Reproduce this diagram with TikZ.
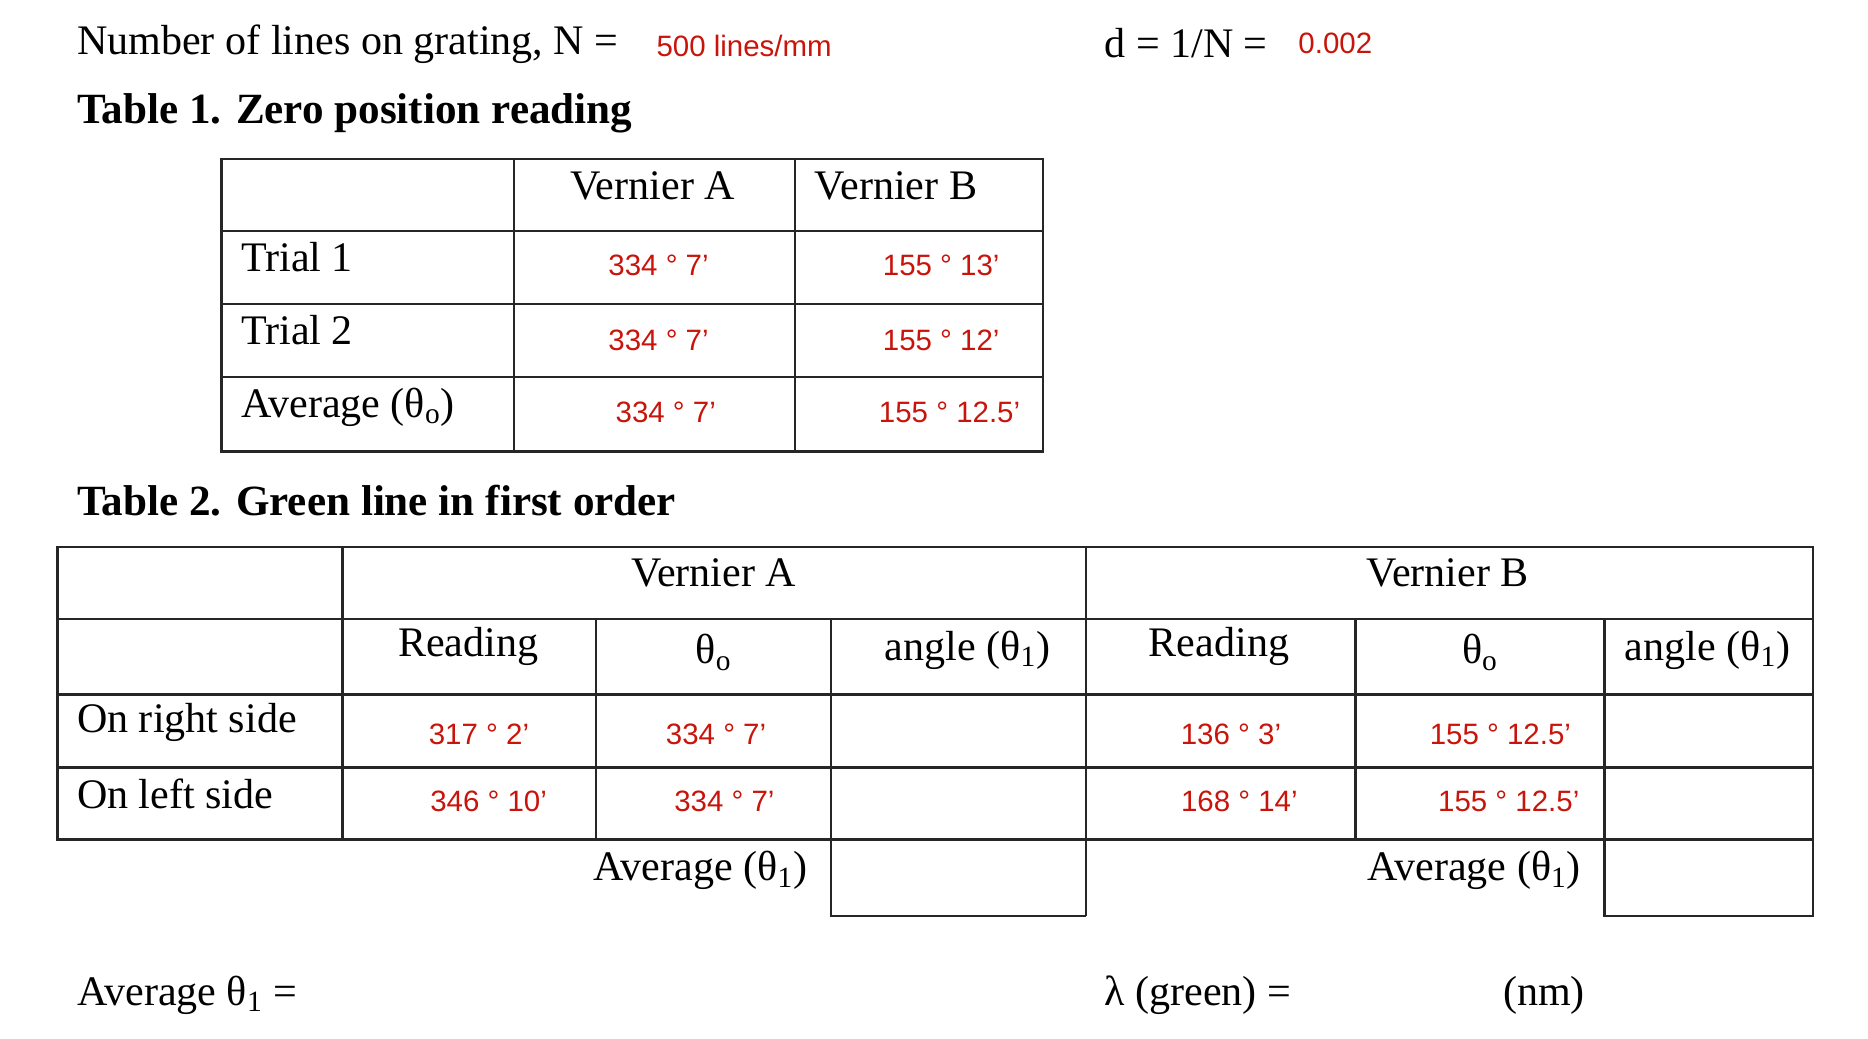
\documentclass[tikz,border=0pt]{standalone}
\usepackage{fontspec}
\setmainfont{Liberation Serif}
\newfontfamily\redsans{Liberation Sans}
\definecolor{rd}{RGB}{200,20,10}
\begin{document}
\begin{tikzpicture}[x=0.02cm,y=-0.02cm,
  txt/.style={inner sep=0pt,font=\fontsize{20}{22}\selectfont},
  lt/.style={txt,anchor=west},
  val/.style={inner sep=0pt,text=rd,font=\redsans\fontsize{14}{16}\selectfont},
  lv/.style={val,anchor=west},
  grid/.style={line width=1.1pt,black!85}]
\useasboundingbox (0,0) rectangle (1560,867);
\node[lt] (n1) at (64,37) {Number of lines on grating, N =};
\node[lv] (v1) at (548,38) {500 lines/mm};
\node[lt] (n2) at (922,36) {d = 1/N =};
\node[lv] (v2) at (1084,36) {0.002};
\node[lt,font=\bfseries\fontsize{20.5}{22}\selectfont] (t1) at (64,95) {Table 1. Zero position reading};
% table 1
\draw[grid] (185,133) rectangle (871,377);
\foreach \y in {193,254,315} \draw[grid] (185,\y) -- (871,\y);
\foreach \x in {429,664} \draw[grid] (\x,133) -- (\x,377);
\node[txt] (a1) at (545,155) {Vernier A};
\node[lt] (b1) at (680,155) {Vernier B};
\node[lt] (r1) at (201,215) {Trial 1};
\node[lt] (r2) at (201,276) {Trial 2};
\node[lt] (r3) at (201,340) {Average (θ\textsubscript{o})};
\node[val] at (550,222) {334 ° 7’};
\node[val] at (786,222) {155 ° 13’};
\node[val] at (550,284) {334 ° 7’};
\node[val] at (786,284) {155 ° 12’};
\node[val] at (556,344) {334 ° 7’};
\node[val] at (793,344) {155 ° 12.5’};
\node[lt,font=\bfseries\fontsize{20.5}{22}\selectfont] (t2) at (64,418) {Table 2. Green line in first order};
% table 2
\draw[grid] (48,457) rectangle (1514,701);
\foreach \y in {517,580,641} \draw[grid] (48,\y) -- (1514,\y);
\draw[grid] (286,457) -- (286,701);
\draw[grid] (907,457) -- (907,765);
\foreach \x in {498,694,1132,1340} \draw[grid] (\x,517) -- (\x,701);
\draw[grid] (694,701) -- (694,765) -- (907,765);
\draw[grid] (1340,701) -- (1340,765) -- (1514,765) -- (1514,701);
\node[txt] at (596,478) {Vernier A};
\node[txt] at (1209,478) {Vernier B};
\node[txt] at (391,540) {Reading};
\node[txt] at (596,545) {θ\textsubscript{o}};
\node[txt] at (808,543) {angle (θ\textsubscript{1})};
\node[txt] at (1018,540) {Reading};
\node[txt] at (1236,545) {θ\textsubscript{o}};
\node[txt] at (1426,543) {angle (θ\textsubscript{1})};
\node[lt] at (64,603) {On right side};
\node[lt] at (64,663) {On left side};
\node[val] at (400,613) {317 ° 2’};
\node[val] at (598,613) {334 ° 7’};
\node[val] at (1028,613) {136 ° 3’};
\node[val] at (1253,613) {155 ° 12.5’};
\node[val] at (408,669) {346 ° 10’};
\node[val] at (605,669) {334 ° 7’};
\node[val] at (1035,669) {168 ° 14’};
\node[val] at (1260,669) {155 ° 12.5’};
\node[txt] at (585,727) {Average (θ\textsubscript{1})};
\node[txt] at (1231,727) {Average (θ\textsubscript{1})};
\node[lt] at (64,831) {Average θ\textsubscript{1} =};
\node[lt] at (922,831) {λ (green) =};
\node[lt] at (1255,831) {(nm)};
\end{tikzpicture}
\end{document}
